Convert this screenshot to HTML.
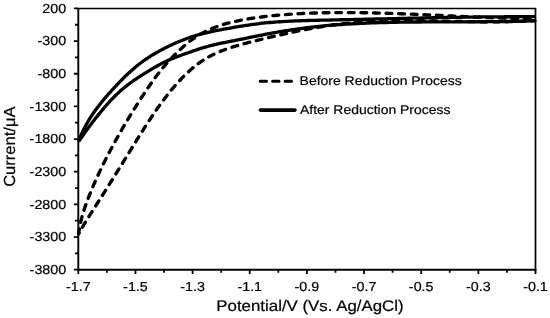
<!DOCTYPE html><html><head><meta charset="utf-8"><style>html,body{margin:0;padding:0;background:#fff;}svg{display:block;}</style></head><body>
<svg width="550" height="318" viewBox="0 0 550 318">
<rect width="550" height="318" fill="#fff"/>
<path d="M78.3,8.4 H536.3" fill="none" stroke="#000" stroke-width="1.5"/>
<path d="M535.5,8.4 V269.7" fill="none" stroke="#000" stroke-width="1.7"/>
<path d="M78.50,141.60 L79.22,139.66 L79.97,137.76 L80.74,135.88 L81.55,134.03 L82.38,132.20 L83.23,130.40 L84.11,128.63 L85.02,126.88 L85.94,125.15 L86.89,123.45 L87.87,121.76 L88.86,120.10 L89.87,118.46 L90.90,116.84 L91.95,115.23 L93.02,113.65 L94.11,112.08 L95.21,110.52 L96.33,108.99 L97.46,107.47 L98.61,105.96 L99.77,104.46 L100.94,102.98 L102.13,101.51 L103.33,100.06 L104.54,98.61 L105.75,97.18 L106.98,95.75 L108.22,94.34 L109.47,92.93 L110.73,91.53 L111.99,90.14 L113.26,88.75 L114.54,87.38 L115.82,86.01 L117.11,84.64 L118.41,83.28 L119.71,81.93 L121.02,80.58 L122.34,79.24 L123.66,77.92 L125.00,76.60 L126.35,75.29 L127.71,74.00 L129.08,72.72 L130.47,71.45 L131.87,70.20 L133.29,68.96 L134.72,67.74 L136.17,66.53 L137.64,65.34 L139.12,64.17 L140.62,63.02 L142.14,61.89 L143.69,60.77 L145.25,59.68 L146.83,58.60 L148.42,57.55 L150.04,56.51 L151.67,55.48 L153.32,54.48 L154.99,53.49 L156.67,52.52 L158.36,51.56 L160.08,50.62 L161.80,49.69 L163.55,48.77 L165.30,47.88 L167.07,46.99 L168.86,46.12 L170.66,45.27 L172.48,44.43 L174.31,43.61 L176.15,42.80 L178.01,42.01 L179.89,41.23 L181.78,40.46 L183.69,39.72 L185.62,38.99 L187.56,38.27 L189.52,37.58 L191.50,36.91 L193.50,36.25 L195.52,35.62 L197.57,35.01 L199.64,34.43 L201.73,33.87 L203.85,33.33 L205.99,32.81 L208.15,32.32 L210.33,31.84 L212.52,31.38 L214.73,30.93 L216.95,30.50 L219.18,30.07 L221.41,29.65 L223.66,29.24 L225.91,28.84 L228.16,28.43 L230.41,28.03 L232.67,27.64 L234.93,27.24 L237.20,26.86 L239.48,26.48 L241.76,26.11 L244.05,25.74 L246.35,25.38 L248.66,25.04 L250.97,24.70 L253.31,24.38 L255.65,24.07 L258.00,23.77 L260.37,23.48 L262.76,23.21 L265.16,22.96 L267.57,22.72 L270.01,22.49 L272.45,22.28 L274.91,22.09 L277.38,21.91 L279.87,21.74 L282.37,21.58 L284.87,21.43 L287.39,21.30 L289.92,21.17 L292.46,21.06 L295.01,20.95 L297.56,20.85 L300.13,20.76 L302.69,20.67 L305.27,20.59 L307.85,20.52 L310.44,20.45 L313.03,20.38 L315.62,20.32 L318.22,20.26 L320.82,20.21 L323.42,20.15 L326.02,20.10 L328.62,20.05 L331.22,19.99 L333.82,19.94 L336.42,19.88 L339.02,19.83 L341.62,19.77 L344.22,19.72 L346.81,19.66 L349.41,19.60 L352.01,19.54 L354.61,19.49 L357.20,19.43 L359.80,19.37 L362.39,19.31 L364.99,19.25 L367.59,19.19 L370.18,19.13 L372.78,19.07 L375.37,19.01 L377.97,18.95 L380.56,18.89 L383.16,18.84 L385.75,18.78 L388.35,18.72 L390.94,18.66 L393.54,18.60 L396.14,18.54 L398.73,18.48 L401.33,18.42 L403.93,18.37 L406.52,18.31 L409.12,18.25 L411.72,18.19 L414.32,18.14 L416.92,18.08 L419.52,18.03 L422.12,17.97 L424.72,17.92 L427.32,17.87 L429.92,17.81 L432.53,17.76 L435.13,17.71 L437.73,17.66 L440.34,17.61 L442.95,17.56 L445.55,17.52 L448.16,17.47 L450.77,17.42 L453.38,17.38 L455.99,17.34 L458.61,17.29 L461.22,17.25 L463.83,17.21 L466.45,17.17 L469.07,17.14 L471.68,17.10 L474.30,17.06 L476.93,17.03 L479.55,17.00 L482.17,16.97 L484.80,16.94 L487.42,16.91 L490.05,16.88 L492.68,16.86 L495.31,16.84 L497.95,16.81 L500.58,16.79 L503.22,16.78 L505.86,16.76 L508.50,16.74 L511.14,16.73 L513.78,16.72 L516.43,16.71 L519.07,16.70 L521.72,16.70 L524.38,16.69 L527.03,16.69 L529.68,16.69 L532.34,16.70 L535.00,16.70" fill="none" stroke="#000" stroke-width="3.3" stroke-linejoin="round"/>
<path d="M78.50,141.60 L79.58,140.05 L80.67,138.50 L81.76,136.96 L82.86,135.42 L83.96,133.88 L85.06,132.35 L86.17,130.82 L87.29,129.30 L88.40,127.78 L89.53,126.27 L90.66,124.76 L91.79,123.26 L92.93,121.77 L94.08,120.28 L95.23,118.79 L96.39,117.32 L97.56,115.85 L98.73,114.39 L99.92,112.93 L101.10,111.48 L102.30,110.04 L103.50,108.61 L104.71,107.19 L105.94,105.77 L107.17,104.37 L108.41,102.97 L109.67,101.59 L110.94,100.23 L112.22,98.87 L113.51,97.53 L114.83,96.21 L116.16,94.90 L117.50,93.61 L118.86,92.34 L120.25,91.08 L121.65,89.85 L123.07,88.64 L124.52,87.44 L125.98,86.27 L127.46,85.12 L128.96,83.98 L130.48,82.86 L132.01,81.76 L133.55,80.67 L135.12,79.59 L136.69,78.53 L138.28,77.48 L139.87,76.44 L141.48,75.41 L143.09,74.39 L144.72,73.38 L146.35,72.37 L147.99,71.37 L149.63,70.38 L151.27,69.39 L152.93,68.41 L154.59,67.43 L156.26,66.47 L157.95,65.52 L159.65,64.58 L161.36,63.66 L163.10,62.76 L164.86,61.89 L166.64,61.03 L168.45,60.20 L170.28,59.40 L172.14,58.62 L174.02,57.87 L175.92,57.13 L177.83,56.41 L179.76,55.70 L181.70,55.00 L183.64,54.31 L185.59,53.62 L187.55,52.94 L189.50,52.26 L191.46,51.58 L193.42,50.90 L195.38,50.23 L197.36,49.57 L199.35,48.92 L201.35,48.29 L203.36,47.67 L205.40,47.07 L207.45,46.49 L209.53,45.93 L211.63,45.39 L213.75,44.88 L215.89,44.38 L218.04,43.89 L220.20,43.42 L222.38,42.96 L224.57,42.51 L226.76,42.07 L228.96,41.63 L231.16,41.20 L233.37,40.77 L235.57,40.33 L237.77,39.90 L239.97,39.46 L242.16,39.02 L244.35,38.57 L246.54,38.12 L248.73,37.68 L250.92,37.23 L253.10,36.78 L255.29,36.34 L257.49,35.89 L259.68,35.45 L261.88,35.02 L264.09,34.59 L266.30,34.16 L268.52,33.74 L270.74,33.33 L272.97,32.93 L275.21,32.53 L277.46,32.14 L279.71,31.75 L281.97,31.37 L284.23,31.00 L286.50,30.64 L288.78,30.28 L291.07,29.93 L293.37,29.59 L295.67,29.26 L297.98,28.93 L300.30,28.61 L302.62,28.30 L304.96,28.00 L307.30,27.71 L309.65,27.42 L312.01,27.15 L314.38,26.88 L316.75,26.62 L319.14,26.37 L321.53,26.13 L323.94,25.89 L326.35,25.67 L328.77,25.46 L331.20,25.25 L333.64,25.05 L336.08,24.86 L338.53,24.68 L341.00,24.50 L343.46,24.33 L345.94,24.17 L348.42,24.02 L350.91,23.88 L353.41,23.74 L355.92,23.60 L358.43,23.48 L360.94,23.36 L363.47,23.25 L365.99,23.14 L368.53,23.04 L371.07,22.94 L373.62,22.85 L376.17,22.77 L378.72,22.69 L381.29,22.61 L383.85,22.54 L386.42,22.48 L389.00,22.42 L391.58,22.36 L394.16,22.31 L396.75,22.26 L399.34,22.22 L401.94,22.18 L404.53,22.14 L407.14,22.10 L409.74,22.07 L412.35,22.04 L414.96,22.02 L417.57,22.00 L420.19,21.98 L422.81,21.96 L425.43,21.94 L428.05,21.93 L430.67,21.91 L433.29,21.90 L435.92,21.89 L438.55,21.88 L441.18,21.87 L443.81,21.87 L446.43,21.86 L449.06,21.86 L451.70,21.85 L454.33,21.84 L456.96,21.84 L459.59,21.83 L462.22,21.83 L464.85,21.82 L467.48,21.81 L470.10,21.80 L472.73,21.80 L475.36,21.78 L477.98,21.77 L480.60,21.76 L483.22,21.74 L485.84,21.73 L488.46,21.71 L491.07,21.69 L493.68,21.66 L496.29,21.63 L498.90,21.60 L501.50,21.57 L504.10,21.54 L506.70,21.50 L509.29,21.45 L511.88,21.41 L514.47,21.36 L517.05,21.30 L519.63,21.25 L522.20,21.18 L524.77,21.12 L527.34,21.04 L529.90,20.97 L532.45,20.89 L535.00,20.80" fill="none" stroke="#000" stroke-width="3.3" stroke-linejoin="round"/>
<path d="M78.60,233.80 L78.97,231.11 L79.40,228.47 L79.88,225.88 L80.40,223.34 L80.97,220.85 L81.58,218.39 L82.23,215.98 L82.91,213.59 L83.63,211.25 L84.37,208.93 L85.15,206.63 L85.94,204.36 L86.76,202.12 L87.59,199.89 L88.44,197.67 L89.31,195.47 L90.18,193.28 L91.06,191.10 L91.96,188.93 L92.87,186.77 L93.79,184.63 L94.72,182.49 L95.65,180.36 L96.60,178.25 L97.56,176.14 L98.53,174.04 L99.51,171.96 L100.49,169.88 L101.49,167.81 L102.49,165.74 L103.50,163.69 L104.52,161.64 L105.55,159.61 L106.58,157.57 L107.62,155.55 L108.67,153.53 L109.72,151.52 L110.78,149.52 L111.85,147.52 L112.92,145.53 L114.00,143.54 L115.08,141.56 L116.17,139.58 L117.27,137.61 L118.37,135.65 L119.48,133.69 L120.59,131.74 L121.71,129.80 L122.83,127.86 L123.96,125.92 L125.10,123.99 L126.24,122.07 L127.39,120.15 L128.54,118.24 L129.69,116.33 L130.86,114.43 L132.02,112.53 L133.20,110.64 L134.38,108.75 L135.56,106.87 L136.75,104.99 L137.94,103.12 L139.14,101.25 L140.34,99.39 L141.55,97.54 L142.77,95.69 L143.98,93.84 L145.21,92.00 L146.44,90.16 L147.67,88.33 L148.92,86.51 L150.17,84.70 L151.43,82.90 L152.70,81.10 L153.98,79.32 L155.28,77.55 L156.59,75.79 L157.91,74.05 L159.25,72.32 L160.60,70.61 L161.97,68.92 L163.35,67.24 L164.76,65.58 L166.18,63.93 L167.62,62.31 L169.08,60.70 L170.56,59.12 L172.05,57.54 L173.56,55.99 L175.09,54.45 L176.63,52.93 L178.19,51.43 L179.77,49.94 L181.36,48.46 L182.97,47.01 L184.60,45.57 L186.25,44.16 L187.93,42.78 L189.64,41.42 L191.39,40.10 L193.17,38.82 L194.99,37.58 L196.85,36.37 L198.75,35.21 L200.69,34.08 L202.66,32.99 L204.68,31.94 L206.73,30.93 L208.82,29.95 L210.94,29.01 L213.11,28.11 L215.31,27.25 L217.54,26.42 L219.82,25.63 L222.13,24.87 L224.48,24.15 L226.86,23.47 L229.28,22.82 L231.72,22.21 L234.21,21.62 L236.72,21.07 L239.25,20.54 L241.82,20.04 L244.41,19.57 L247.02,19.11 L249.65,18.68 L252.30,18.26 L254.96,17.87 L257.65,17.49 L260.35,17.12 L263.07,16.78 L265.81,16.45 L268.56,16.14 L271.33,15.84 L274.11,15.56 L276.91,15.29 L279.72,15.04 L282.55,14.80 L285.39,14.57 L288.24,14.36 L291.11,14.17 L293.99,13.98 L296.88,13.81 L299.79,13.65 L302.70,13.50 L305.63,13.37 L308.57,13.24 L311.53,13.13 L314.49,13.03 L317.46,12.94 L320.44,12.85 L323.44,12.78 L326.44,12.72 L329.46,12.67 L332.48,12.63 L335.52,12.60 L338.56,12.58 L341.61,12.57 L344.67,12.56 L347.74,12.57 L350.82,12.58 L353.91,12.60 L357.00,12.63 L360.11,12.67 L363.22,12.72 L366.33,12.77 L369.46,12.83 L372.59,12.90 L375.73,12.97 L378.87,13.05 L382.02,13.14 L385.18,13.23 L388.34,13.32 L391.51,13.43 L394.68,13.53 L397.86,13.65 L401.04,13.76 L404.22,13.88 L407.41,14.01 L410.61,14.13 L413.80,14.27 L417.00,14.40 L420.20,14.54 L423.41,14.68 L426.61,14.82 L429.82,14.96 L433.03,15.11 L436.24,15.25 L439.46,15.40 L442.67,15.55 L445.88,15.70 L449.10,15.85 L452.31,16.00 L455.53,16.15 L458.74,16.30 L461.95,16.44 L465.17,16.59 L468.38,16.74 L471.58,16.88 L474.79,17.02 L478.00,17.16 L481.20,17.30 L484.40,17.44 L487.59,17.57 L490.79,17.70 L493.98,17.82 L497.16,17.94 L500.35,18.06 L503.52,18.17 L506.70,18.28 L509.86,18.38 L513.03,18.48 L516.19,18.57 L519.34,18.66 L522.48,18.74 L525.62,18.82 L528.76,18.89 L531.88,18.95 L535.00,19.00" fill="none" stroke="#000" stroke-width="3.35" stroke-linecap="round" stroke-dasharray="5.85 6.735" stroke-dashoffset="0.94"/>
<path d="M78.60,233.80 L79.70,231.84 L80.81,229.90 L81.94,227.97 L83.08,226.05 L84.23,224.14 L85.38,222.24 L86.55,220.35 L87.72,218.47 L88.90,216.59 L90.09,214.72 L91.27,212.85 L92.46,210.98 L93.65,209.11 L94.85,207.25 L96.04,205.38 L97.23,203.51 L98.41,201.64 L99.60,199.77 L100.79,197.90 L101.97,196.03 L103.16,194.16 L104.34,192.28 L105.52,190.41 L106.70,188.53 L107.88,186.66 L109.06,184.78 L110.24,182.90 L111.42,181.02 L112.60,179.14 L113.77,177.26 L114.95,175.38 L116.12,173.49 L117.29,171.61 L118.46,169.72 L119.63,167.83 L120.80,165.95 L121.97,164.06 L123.14,162.17 L124.30,160.28 L125.47,158.38 L126.63,156.49 L127.79,154.60 L128.96,152.70 L130.12,150.81 L131.28,148.91 L132.44,147.02 L133.61,145.13 L134.78,143.24 L135.94,141.35 L137.11,139.46 L138.29,137.58 L139.46,135.69 L140.64,133.82 L141.82,131.94 L143.01,130.07 L144.20,128.20 L145.40,126.34 L146.60,124.49 L147.80,122.63 L149.01,120.79 L150.23,118.95 L151.46,117.12 L152.69,115.29 L153.93,113.47 L155.17,111.66 L156.43,109.86 L157.69,108.06 L158.96,106.28 L160.24,104.50 L161.53,102.73 L162.83,100.98 L164.14,99.23 L165.46,97.49 L166.79,95.77 L168.13,94.05 L169.49,92.35 L170.86,90.66 L172.24,88.99 L173.64,87.33 L175.05,85.68 L176.48,84.05 L177.92,82.44 L179.39,80.85 L180.87,79.27 L182.37,77.71 L183.89,76.18 L185.43,74.66 L186.99,73.17 L188.57,71.69 L190.18,70.25 L191.82,68.83 L193.48,67.43 L195.17,66.06 L196.89,64.73 L198.64,63.42 L200.43,62.15 L202.24,60.90 L204.09,59.70 L205.97,58.52 L207.90,57.39 L209.85,56.29 L211.85,55.23 L213.89,54.21 L215.97,53.23 L218.09,52.29 L220.25,51.39 L222.44,50.53 L224.66,49.70 L226.92,48.90 L229.20,48.12 L231.51,47.38 L233.84,46.65 L236.19,45.94 L238.56,45.25 L240.94,44.57 L243.33,43.91 L245.73,43.26 L248.15,42.61 L250.57,41.98 L253.00,41.35 L255.44,40.74 L257.89,40.13 L260.35,39.53 L262.81,38.93 L265.28,38.34 L267.75,37.76 L270.22,37.17 L272.70,36.60 L275.18,36.02 L277.67,35.45 L280.16,34.89 L282.66,34.33 L285.16,33.77 L287.67,33.22 L290.18,32.68 L292.70,32.14 L295.23,31.61 L297.76,31.09 L300.30,30.57 L302.85,30.06 L305.41,29.56 L307.98,29.07 L310.55,28.59 L313.14,28.12 L315.74,27.66 L318.34,27.21 L320.96,26.77 L323.60,26.35 L326.24,25.94 L328.90,25.54 L331.57,25.15 L334.25,24.78 L336.95,24.42 L339.67,24.08 L342.40,23.75 L345.15,23.44 L347.91,23.15 L350.69,22.87 L353.49,22.62 L356.31,22.38 L359.14,22.16 L362.00,21.95 L364.87,21.77 L367.76,21.60 L370.66,21.45 L373.58,21.31 L376.52,21.19 L379.47,21.08 L382.43,20.99 L385.41,20.91 L388.40,20.84 L391.40,20.78 L394.41,20.74 L397.44,20.71 L400.47,20.68 L403.52,20.67 L406.57,20.67 L409.63,20.67 L412.70,20.68 L415.78,20.70 L418.86,20.73 L421.95,20.76 L425.04,20.80 L428.14,20.84 L431.25,20.89 L434.35,20.94 L437.46,20.99 L440.58,21.05 L443.69,21.10 L446.81,21.16 L449.92,21.22 L453.04,21.28 L456.16,21.34 L459.27,21.40 L462.38,21.45 L465.50,21.51 L468.60,21.56 L471.71,21.61 L474.81,21.65 L477.90,21.69 L480.99,21.72 L484.08,21.75 L487.15,21.77 L490.22,21.78 L493.28,21.78 L496.34,21.78 L499.38,21.77 L502.42,21.75 L505.44,21.71 L508.46,21.67 L511.46,21.62 L514.45,21.55 L517.43,21.47 L520.39,21.38 L523.34,21.27 L526.28,21.15 L529.20,21.02 L532.11,20.87 L535.00,20.70" fill="none" stroke="#000" stroke-width="3.35" stroke-linecap="round" stroke-dasharray="5.85 6.735" stroke-dashoffset="5.01"/>
<path d="M73.90,8.40 H78.3 M75.00,24.73 H78.3 M73.90,41.06 H78.3 M75.00,57.39 H78.3 M73.90,73.73 H78.3 M75.00,90.06 H78.3 M73.90,106.39 H78.3 M75.00,122.72 H78.3 M73.90,139.05 H78.3 M75.00,155.38 H78.3 M73.90,171.71 H78.3 M75.00,188.04 H78.3 M73.90,204.38 H78.3 M75.00,220.71 H78.3 M73.90,237.04 H78.3 M75.00,253.37 H78.3 M73.90,269.70 H78.3 M78.30,269.7 V273.90 M106.88,269.7 V272.70 M135.45,269.7 V273.90 M164.03,269.7 V272.70 M192.60,269.7 V273.90 M221.18,269.7 V272.70 M249.75,269.7 V273.90 M278.32,269.7 V272.70 M306.90,269.7 V273.90 M335.48,269.7 V272.70 M364.05,269.7 V273.90 M392.62,269.7 V272.70 M421.20,269.7 V273.90 M449.78,269.7 V272.70 M478.35,269.7 V273.90 M506.93,269.7 V272.70 M535.50,269.7 V273.90" fill="none" stroke="#000" stroke-width="1.8"/>
<path d="M78.3,8.200000000000001 V269.7 H536.4" fill="none" stroke="#000" stroke-width="1.9"/>
<g font-family="Liberation Sans, Arial, Helvetica, sans-serif" fill="#000" stroke="#000" stroke-width="0.2" text-rendering="geometricPrecision">
<text x="60.182" y="12.75" font-size="13" text-anchor="end" transform="scale(1.1,1)">200</text>
<text x="60.182" y="45.41" font-size="13" text-anchor="end" transform="scale(1.1,1)">-300</text>
<text x="60.182" y="78.08" font-size="13" text-anchor="end" transform="scale(1.1,1)">-800</text>
<text x="60.182" y="110.74" font-size="13" text-anchor="end" transform="scale(1.1,1)">-1300</text>
<text x="60.182" y="143.40" font-size="13" text-anchor="end" transform="scale(1.1,1)">-1800</text>
<text x="60.182" y="176.06" font-size="13" text-anchor="end" transform="scale(1.1,1)">-2300</text>
<text x="60.182" y="208.72" font-size="13" text-anchor="end" transform="scale(1.1,1)">-2800</text>
<text x="60.182" y="241.39" font-size="13" text-anchor="end" transform="scale(1.1,1)">-3300</text>
<text x="60.182" y="274.05" font-size="13" text-anchor="end" transform="scale(1.1,1)">-3800</text>
<text x="71.182" y="290.80" font-size="13" text-anchor="middle" transform="scale(1.1,1)">-1.7</text>
<text x="123.136" y="290.80" font-size="13" text-anchor="middle" transform="scale(1.1,1)">-1.5</text>
<text x="175.091" y="290.80" font-size="13" text-anchor="middle" transform="scale(1.1,1)">-1.3</text>
<text x="227.045" y="290.80" font-size="13" text-anchor="middle" transform="scale(1.1,1)">-1.1</text>
<text x="279.000" y="290.80" font-size="13" text-anchor="middle" transform="scale(1.1,1)">-0.9</text>
<text x="330.955" y="290.80" font-size="13" text-anchor="middle" transform="scale(1.1,1)">-0.7</text>
<text x="382.909" y="290.80" font-size="13" text-anchor="middle" transform="scale(1.1,1)">-0.5</text>
<text x="434.864" y="290.80" font-size="13" text-anchor="middle" transform="scale(1.1,1)">-0.3</text>
<text x="486.818" y="290.80" font-size="13" text-anchor="middle" transform="scale(1.1,1)">-0.1</text>
<text x="197.534" y="310.60" font-size="15.4" text-anchor="start" transform="scale(1.095,1)">Potential/V (Vs. Ag/AgCl)</text>
<text transform="translate(15.0,186.85) rotate(-90) scale(1.035,1)" font-size="16">Current/μA</text>
</g>
<path d="M260.2,81.2 H291.7" fill="none" stroke="#000" stroke-width="3.0" stroke-linecap="round" stroke-dasharray="6.4 6.05"/>
<path d="M260.4,110.1 H295.0" fill="none" stroke="#000" stroke-width="3.6" stroke-linecap="round"/>
<g font-family="Liberation Sans, Arial, Helvetica, sans-serif" fill="#000" stroke="#000" stroke-width="0.2" text-rendering="geometricPrecision">
<text x="272.364" y="85.10" font-size="12.7" text-anchor="start" transform="scale(1.1,1)">Before Reduction Process</text>
<text x="272.727" y="114.20" font-size="12.7" text-anchor="start" transform="scale(1.1,1)">After Reduction Process</text>
</g>
</svg></body></html>
